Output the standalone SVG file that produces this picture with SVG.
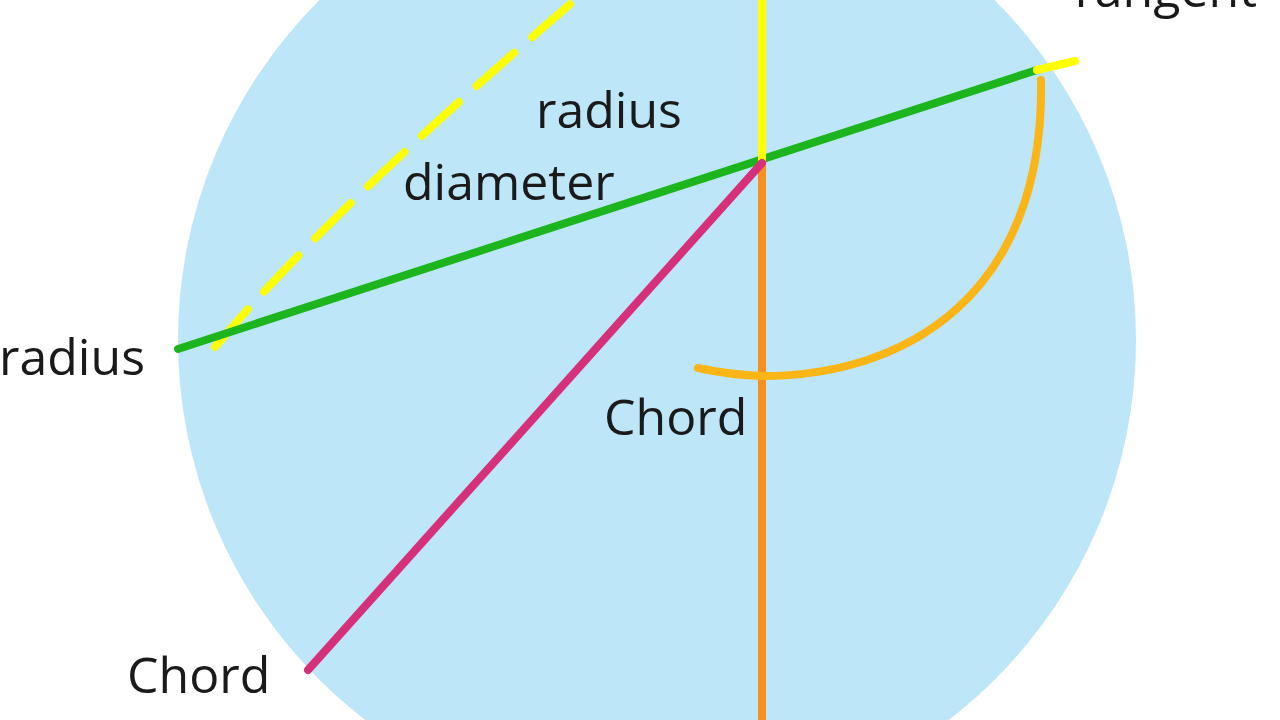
<svg xmlns="http://www.w3.org/2000/svg" width="1280" height="720" viewBox="0 0 1280 720">
<style>
.lbl{font-family:"Open Sans","Noto Sans","Liberation Sans",sans-serif;font-size:50px;fill:#1a1a1a}
.ln{fill:none;stroke-width:8;stroke-linecap:round}
</style>
<rect width="1280" height="720" fill="#ffffff"/>
<g id="circle">
<circle cx="657" cy="340" r="479" fill="#bde6f8"/>
</g>
<g id="connectors">
<path id="radius-dashed" class="ln" d="M215,347 Q330,210 575,0" stroke="#ffff00" stroke-dasharray="50 24" stroke-linecap="butt"/>
<line id="diameter" class="ln" x1="178" y1="349" x2="1037" y2="70" stroke="#1db51d"/>
<line id="tangent" class="ln" x1="1037" y1="70" x2="1075" y2="61" stroke="#ffff00"/>
<line id="radius-vertical" class="ln" x1="762" y1="-5" x2="762" y2="160" stroke="#ffff00"/>
<line id="chord-vertical" class="ln" x1="762" y1="163" x2="762" y2="725" stroke="#f7901e"/>
<line id="chord-diagonal" class="ln" x1="762" y1="163" x2="308" y2="670" stroke="#d6307a"/>
<path id="arc" class="ln" d="M1041,80 C1045,300 900,376 763,376 Q730,375 698,368" stroke="#fbb516"/>
</g>
<g id="label-tangent"><text class="lbl" x="1257" y="7" text-anchor="end">Tangent</text></g>
<g id="label-radius-top"><text class="lbl" x="536" y="128">radius</text></g>
<g id="label-diameter"><text class="lbl" x="403" y="200">diameter</text></g>
<g id="label-radius-left"><text class="lbl" x="145" y="375" text-anchor="end">radius</text></g>
<g id="label-chord-mid"><text class="lbl" x="604" y="435">Chord</text></g>
<g id="label-chord-bottom"><text class="lbl" x="127" y="693">Chord</text></g>
</svg>
